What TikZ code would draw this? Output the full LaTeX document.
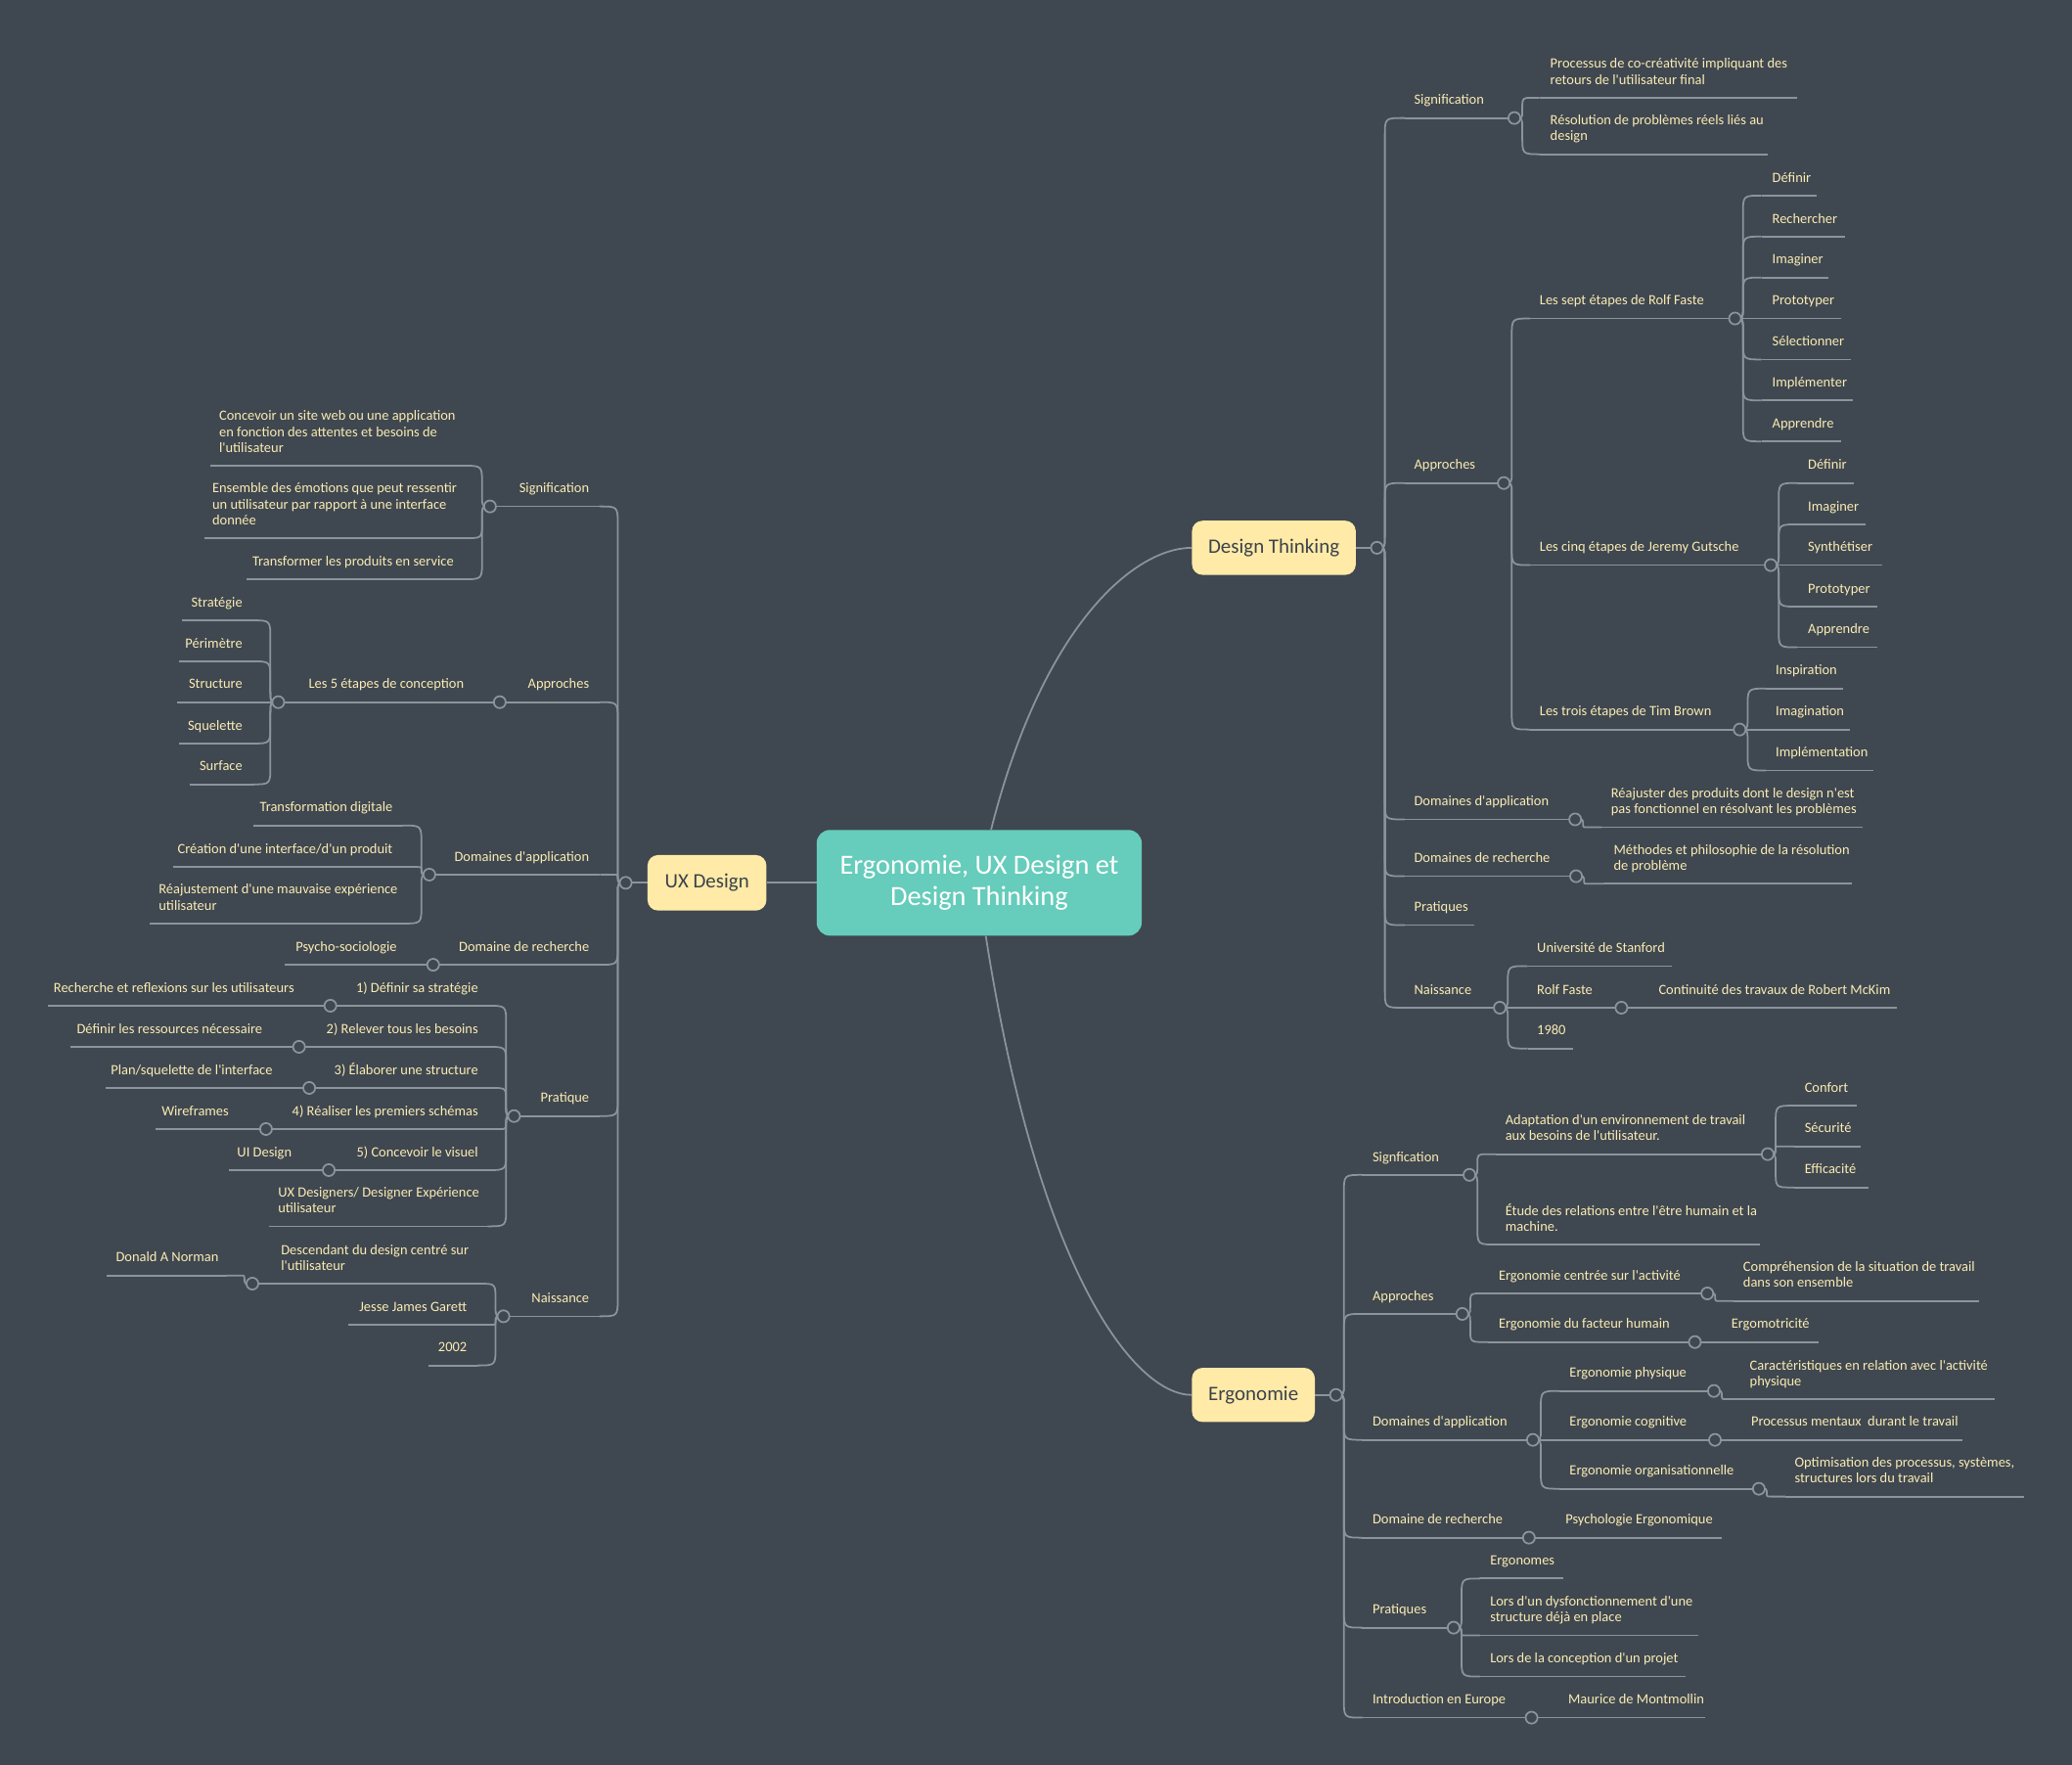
\documentclass[tikz,border=0pt]{standalone}
\usepackage{fontspec}
\setmainfont{Carlito}[Ligatures=TeXOff]
\usetikzlibrary{calc}
\pgfdeclarelayer{back}
\pgfdeclarelayer{lines}
\pgfsetlayers{back,lines,main}
\definecolor{bgc}{RGB}{63,71,80}
\definecolor{lnc}{RGB}{139,147,155}
\definecolor{txc}{RGB}{250,236,180}
\definecolor{yelc}{RGB}{255,234,167}
\definecolor{ntxc}{RGB}{58,66,76}
\definecolor{rootc}{RGB}{102,204,187}
\tikzset{
  ln/.style={draw=lnc, line width=1.3pt},
  lbl/.style={inner sep=0pt, text=txc, font=\fontsize{10.7}{12}\selectfont, align=left, execute at end node=\strut},
  dot/.style={circle, draw=lnc, fill=bgc, line width=1.3pt, minimum size=9pt, inner sep=0pt},
  topbox/.style={rounded corners=8pt, fill=yelc, text=ntxc, font=\fontsize{15.5}{18}\selectfont, inner sep=0pt, minimum height=41pt},
  br/.style={to path={
    let \p1=(\tikztostart), \p2=(\tikztotarget),
        \n1={ifthenelse(\x2>\x1,1,-1)},
        \n2={ifthenelse(\y2>\y1,1,-1)},
        \n3={abs(\y2-\y1)},
        \n4={min(14,0.5*\n3)},
        \n5={min(8,0.3*\n3)}
    in (\p1) .. controls (\x1+6*\n1,\y1) .. (\x1+6*\n1,\y1+\n2*\n5)
       -- (\x1+6*\n1,\y2-\n2*\n4)
       .. controls (\x1+6*\n1,\y2) .. (\x1+6*\n1+\n1*\n4,\y2)
       -- (\p2)}}
}
\newcommand{\topic}[7]{%
  \coordinate (#1-s) at (#3,#5);
  \coordinate (#1-e) at (#4,#5);
  \begin{pgfonlayer}{lines}\draw[ln] (#1-s) -- (#1-e);\end{pgfonlayer}
  \node[lbl,anchor=#2] (#1) at (#6,#5-6.4) {#7};
}
\newcommand{\hub}[1]{\node[dot] (#1-c) at (#1-e) {};}
\newcommand{\links}[2]{%
  \foreach \cc in {#2} {\begin{pgfonlayer}{lines}\draw[ln] (#1-e) to[br] (\cc-s);\end{pgfonlayer}}%
  \hub{#1}}
\begin{document}
\begin{tikzpicture}[x=1pt,y=-1pt]
\begin{pgfonlayer}{back}
\fill[bgc] (0,0) rectangle (1568,1335.5);
\end{pgfonlayer}
\useasboundingbox (0,0) rectangle (1568,1335.5);

% main nodes
\node[rounded corners=10pt, fill=rootc, text=white, minimum width=246pt, minimum height=80pt, inner sep=0pt, align=center, font=\fontsize{21}{24}\selectfont] (root) at (741,668) {Ergonomie, UX Design et\\Design Thinking};
\node[topbox, minimum width=124pt] (dt) at (964,414.5) {Design Thinking};
\node[topbox, minimum width=93pt] (erg) at (948.5,1055.5) {Ergonomie};
\node[topbox, minimum width=90pt, minimum height=42pt] (ux) at (535,668) {UX Design};
\coordinate (dt-e) at (1042,414.5);
\coordinate (erg-e) at (1011,1055.5);
\coordinate (ux-e) at (473.5,668);
\begin{pgfonlayer}{lines}
\draw[ln] (root.west) -- (ux.east);
\draw[ln] ([xshift=9pt]root.north) .. controls (790,470) and (860,414.5) .. (dt.west);
\draw[ln] ([xshift=5pt]root.south) .. controls (786,964) and (859,1055.5) .. (erg.west);
\draw[ln] (dt.east) -- (dt-e);
\draw[ln] (erg.east) -- (erg-e);
\draw[ln] (ux.west) -- (ux-e);
\end{pgfonlayer}

% ---------------- Design Thinking ----------------
\topic{dt1}{south west}{1063}{1146}{89.3}{1070}{Signification}
\topic{dt1a}{south west}{1165}{1360}{74}{1173}{Processus de co-créativité impliquant des\\retours de l'utilisateur final}
\topic{dt1b}{south west}{1165}{1338}{116.7}{1173}{Résolution de problèmes réels liés au\\design}
\topic{dt2}{south west}{1063}{1138}{365.5}{1070}{Approches}
\topic{dt2a}{south west}{1158}{1313}{241}{1165}{Les sept étapes de Rolf Faste}
\topic{dt2a1}{south west}{1333}{1375}{148}{1341}{Définir}
\topic{dt2a2}{south west}{1333}{1396}{179}{1341}{Rechercher}
\topic{dt2a3}{south west}{1333}{1384}{210}{1341}{Imaginer}
\topic{dt2a4}{south west}{1333}{1393}{241}{1341}{Prototyper}
\topic{dt2a5}{south west}{1333}{1401}{272}{1341}{Sélectionner}
\topic{dt2a6}{south west}{1333}{1402}{303}{1341}{Implémenter}
\topic{dt2a7}{south west}{1333}{1393}{334}{1341}{Apprendre}
\topic{dt2b}{south west}{1158}{1340}{427.6}{1165}{Les cinq étapes de Jeremy Gutsche}
\topic{dt2b1}{south west}{1360}{1403}{365.5}{1368}{Définir}
\topic{dt2b2}{south west}{1360}{1412}{396.8}{1368}{Imaginer}
\topic{dt2b3}{south west}{1360}{1424}{427.6}{1368}{Synthétiser}
\topic{dt2b4}{south west}{1360}{1421}{459}{1368}{Prototyper}
\topic{dt2b5}{south west}{1360}{1421}{489.8}{1368}{Apprendre}
\topic{dt2c}{south west}{1158}{1316.5}{552}{1165}{Les trois étapes de Tim Brown}
\topic{dt2c1}{south west}{1336}{1395}{521}{1343.6}{Inspiration}
\topic{dt2c2}{south west}{1336}{1400}{552}{1343.6}{Imagination}
\topic{dt2c3}{south west}{1336}{1418}{583}{1343.6}{Implémentation}
\topic{dt3}{south west}{1063}{1192}{620}{1070}{Domaines d'application}
\topic{dt3a}{south west}{1212}{1409.5}{626}{1219}{Réajuster des produits dont le design n'est\\pas fonctionnel en résolvant les problèmes}
\topic{dt4}{south west}{1063}{1192.7}{663}{1070}{Domaines de recherche}
\topic{dt4a}{south west}{1214}{1401.5}{668.7}{1221}{Méthodes et philosophie de la résolution\\de problème}
\topic{dt5}{south west}{1063}{1116}{700}{1070}{Pratiques}
\topic{dt6}{south west}{1063}{1135}{762.5}{1070}{Naissance}
\topic{dt6a}{south west}{1156}{1265}{731}{1163}{Université de Stanford}
\topic{dt6b}{south west}{1156}{1227}{762.5}{1163}{Rolf Faste}
\topic{dt6b1}{south west}{1247}{1435.5}{762.5}{1255}{Continuité des travaux de Robert McKim}
\topic{dt6c}{south west}{1156}{1190.5}{793.4}{1163}{1980}

\links{dt}{dt1,dt2,dt3,dt4,dt5,dt6}
\links{dt1}{dt1a,dt1b}
\links{dt2}{dt2a,dt2b,dt2c}
\links{dt2a}{dt2a1,dt2a2,dt2a3,dt2a4,dt2a5,dt2a6,dt2a7}
\links{dt2b}{dt2b1,dt2b2,dt2b3,dt2b4,dt2b5}
\links{dt2c}{dt2c1,dt2c2,dt2c3}
\links{dt3}{dt3a}
\links{dt4}{dt4a}
\links{dt6}{dt6a,dt6b,dt6c}
\links{dt6b}{dt6b1}

% ---------------- Ergonomie ----------------
\topic{e1}{south west}{1030.5}{1112}{889}{1038.5}{Signfication}
\topic{e1a}{south west}{1132}{1337.7}{873.3}{1139}{Adaptation d'un environnement de travail\\aux besoins de l'utilisateur.}
\topic{e1a1}{south west}{1358}{1405}{836.6}{1365.5}{Confort}
\topic{e1a2}{south west}{1358}{1408}{867.4}{1365.5}{Sécurité}
\topic{e1a3}{south west}{1358}{1414}{898.5}{1365.5}{Efficacité}
\topic{e1b}{south west}{1132}{1331.6}{941.7}{1139}{Étude des relations entre l'être humain et la\\machine.}
\topic{e2}{south west}{1030.5}{1106.6}{994.2}{1038.5}{Approches}
\topic{e2a}{south west}{1126}{1292}{978.7}{1134}{Ergonomie centrée sur l'activité}
\topic{e2a1}{south west}{1312}{1497.6}{984.4}{1319}{Compréhension de la situation de travail\\dans son ensemble}
\topic{e2b}{south west}{1126}{1282.6}{1015.5}{1134}{Ergonomie du facteur humain}
\topic{e2b1}{south west}{1302}{1376}{1015.5}{1310}{Ergomotricité}
\topic{e3}{south west}{1030.5}{1160}{1089.5}{1038.5}{Domaines d'application}
\topic{e3a}{south west}{1180}{1297}{1052.5}{1187.6}{Ergonomie physique}
\topic{e3a1}{south west}{1317}{1509.8}{1058.7}{1324}{Caractéristiques en relation avec l'activité\\physique}
\topic{e3b}{south west}{1180}{1297.8}{1089.5}{1187.6}{Ergonomie cognitive}
\topic{e3b1}{south west}{1318}{1485}{1089.5}{1325}{Processus mentaux\ \ durant le travail}
\topic{e3c}{south west}{1180}{1331}{1126.5}{1187.6}{Ergonomie organisationnelle}
\topic{e3c1}{south west}{1351}{1531.7}{1132.4}{1358}{Optimisation des processus, systèmes,\\structures lors du travail}
\topic{e4}{south west}{1030.5}{1157}{1163.5}{1038.5}{Domaine de recherche}
\topic{e4a}{south west}{1177}{1302.6}{1163.5}{1184.5}{Psychologie Ergonomique}
\topic{e5}{south west}{1030.5}{1100}{1231.6}{1038.5}{Pratiques}
\topic{e5a}{south west}{1120}{1182.8}{1194.4}{1127.5}{Ergonomes}
\topic{e5b}{south west}{1120}{1285.5}{1237.5}{1127.5}{Lors d'un dysfonctionnement d'une\\structure déjà en place}
\topic{e5c}{south west}{1120}{1275.3}{1268.6}{1127.5}{Lors de la conception d'un projet}
\topic{e6}{south west}{1030.5}{1159}{1299.7}{1038.5}{Introduction en Europe}
\topic{e6a}{south west}{1179}{1290.7}{1299.7}{1186.6}{Maurice de Montmollin}

\links{erg}{e1,e2,e3,e4,e5,e6}
\links{e1}{e1a,e1b}
\links{e1a}{e1a1,e1a2,e1a3}
\links{e2}{e2a,e2b}
\links{e2a}{e2a1}
\links{e2b}{e2b1}
\links{e3}{e3a,e3b,e3c}
\links{e3a}{e3a1}
\links{e3b}{e3b1}
\links{e3c}{e3c1}
\links{e4}{e4a}
\links{e5}{e5a,e5b,e5c}
\links{e6}{e6a}

% ---------------- UX Design ----------------
\topic{u1}{south east}{454}{370.8}{383.2}{446}{Signification}
\topic{u1a}{south west}{351.5}{159.5}{352.4}{165.7}{Concevoir un site web ou une application\\en fonction des attentes et besoins de\\l'utilisateur}
\topic{u1b}{south west}{351.5}{154.4}{407.2}{160.5}{Ensemble des émotions que peut ressentir\\un utilisateur par rapport à une interface\\donnée}
\topic{u1c}{south east}{351.5}{186.8}{438.3}{343.5}{Transformer les produits en service}
\topic{u2}{south east}{454}{378.2}{531.3}{446}{Approches}
\topic{u2a}{south east}{358}{210.6}{531.3}{351.2}{Les 5 étapes de conception}
\topic{u2a1}{south east}{192.6}{138}{469.4}{183.6}{Stratégie}
\topic{u2a2}{south east}{192.6}{135.5}{500.4}{183.6}{Périmètre}
\topic{u2a3}{south east}{192.6}{134}{531.3}{183.6}{Structure}
\topic{u2a4}{south east}{192.6}{135.5}{562.6}{183.6}{Squelette}
\topic{u2a5}{south east}{192.6}{143.5}{593.5}{183.6}{Surface}
\topic{u3}{south east}{454}{324.9}{661.8}{446}{Domaines d'application}
\topic{u3a}{south east}{305}{192}{624.6}{297.3}{Transformation digitale}
\topic{u3b}{south east}{305}{131}{656}{297.3}{Création d'une interface/d'un produit}
\topic{u3c}{south west}{305}{113.6}{698.8}{120}{Réajustement d'une mauvaise expérience\\utilisateur}
\topic{u4}{south east}{454}{327.8}{730}{446}{Domaine de recherche}
\topic{u4a}{south east}{308}{215.7}{730}{300.5}{Psycho-sociologie}
\topic{u5}{south east}{454}{389}{844.5}{446}{Pratique}
\topic{u5a}{south east}{369.2}{250}{761}{362}{1) Définir sa stratégie}
\topic{u5a1}{south east}{230}{36.6}{761}{222.8}{Recherche et reflexions sur les utilisateurs}
\topic{u5b}{south east}{369.2}{226.3}{792.1}{362}{2) Relever tous les besoins}
\topic{u5b1}{south east}{206.3}{53}{792.1}{198.7}{Définir les ressources nécessaire}
\topic{u5c}{south east}{369.2}{234}{823.2}{362}{3) Élaborer une structure}
\topic{u5c1}{south east}{214}{80.3}{823.2}{206.4}{Plan/squelette de l'interface}
\topic{u5d}{south east}{369.2}{201.3}{854.3}{362}{4) Réaliser les premiers schémas}
\topic{u5d1}{south east}{181.3}{118}{854.3}{173.3}{Wireframes}
\topic{u5e}{south east}{369.2}{248.8}{885.4}{362}{5) Concevoir le visuel}
\topic{u5e1}{south east}{228.8}{173.4}{885.4}{220.9}{UI Design}
\topic{u5f}{south west}{369.2}{203.9}{927.9}{210.3}{UX Designers/ Designer Expérience\\utilisateur}
\topic{u6}{south east}{454}{381}{996}{446}{Naissance}
\topic{u6a}{south west}{361}{191}{971.3}{212.5}{Descendant du design centré sur\\l'utilisateur}
\topic{u6a1}{south west}{171.7}{80.9}{965.1}{87.6}{Donald A Norman}
\topic{u6b}{south east}{361}{263.2}{1002.4}{353.5}{Jesse James Garett}
\topic{u6c}{south east}{361}{324.6}{1033.2}{353.5}{2002}

\links{ux}{u1,u2,u3,u4,u5,u6}
\links{u1}{u1a,u1b,u1c}
\links{u2}{u2a}
\links{u2a}{u2a1,u2a2,u2a3,u2a4,u2a5}
\links{u3}{u3a,u3b,u3c}
\links{u4}{u4a}
\links{u5}{u5a,u5b,u5c,u5d,u5e,u5f}
\links{u5a}{u5a1}
\links{u5b}{u5b1}
\links{u5c}{u5c1}
\links{u5d}{u5d1}
\links{u5e}{u5e1}
\links{u6}{u6a,u6b,u6c}
\links{u6a}{u6a1}
\end{tikzpicture}
\end{document}
